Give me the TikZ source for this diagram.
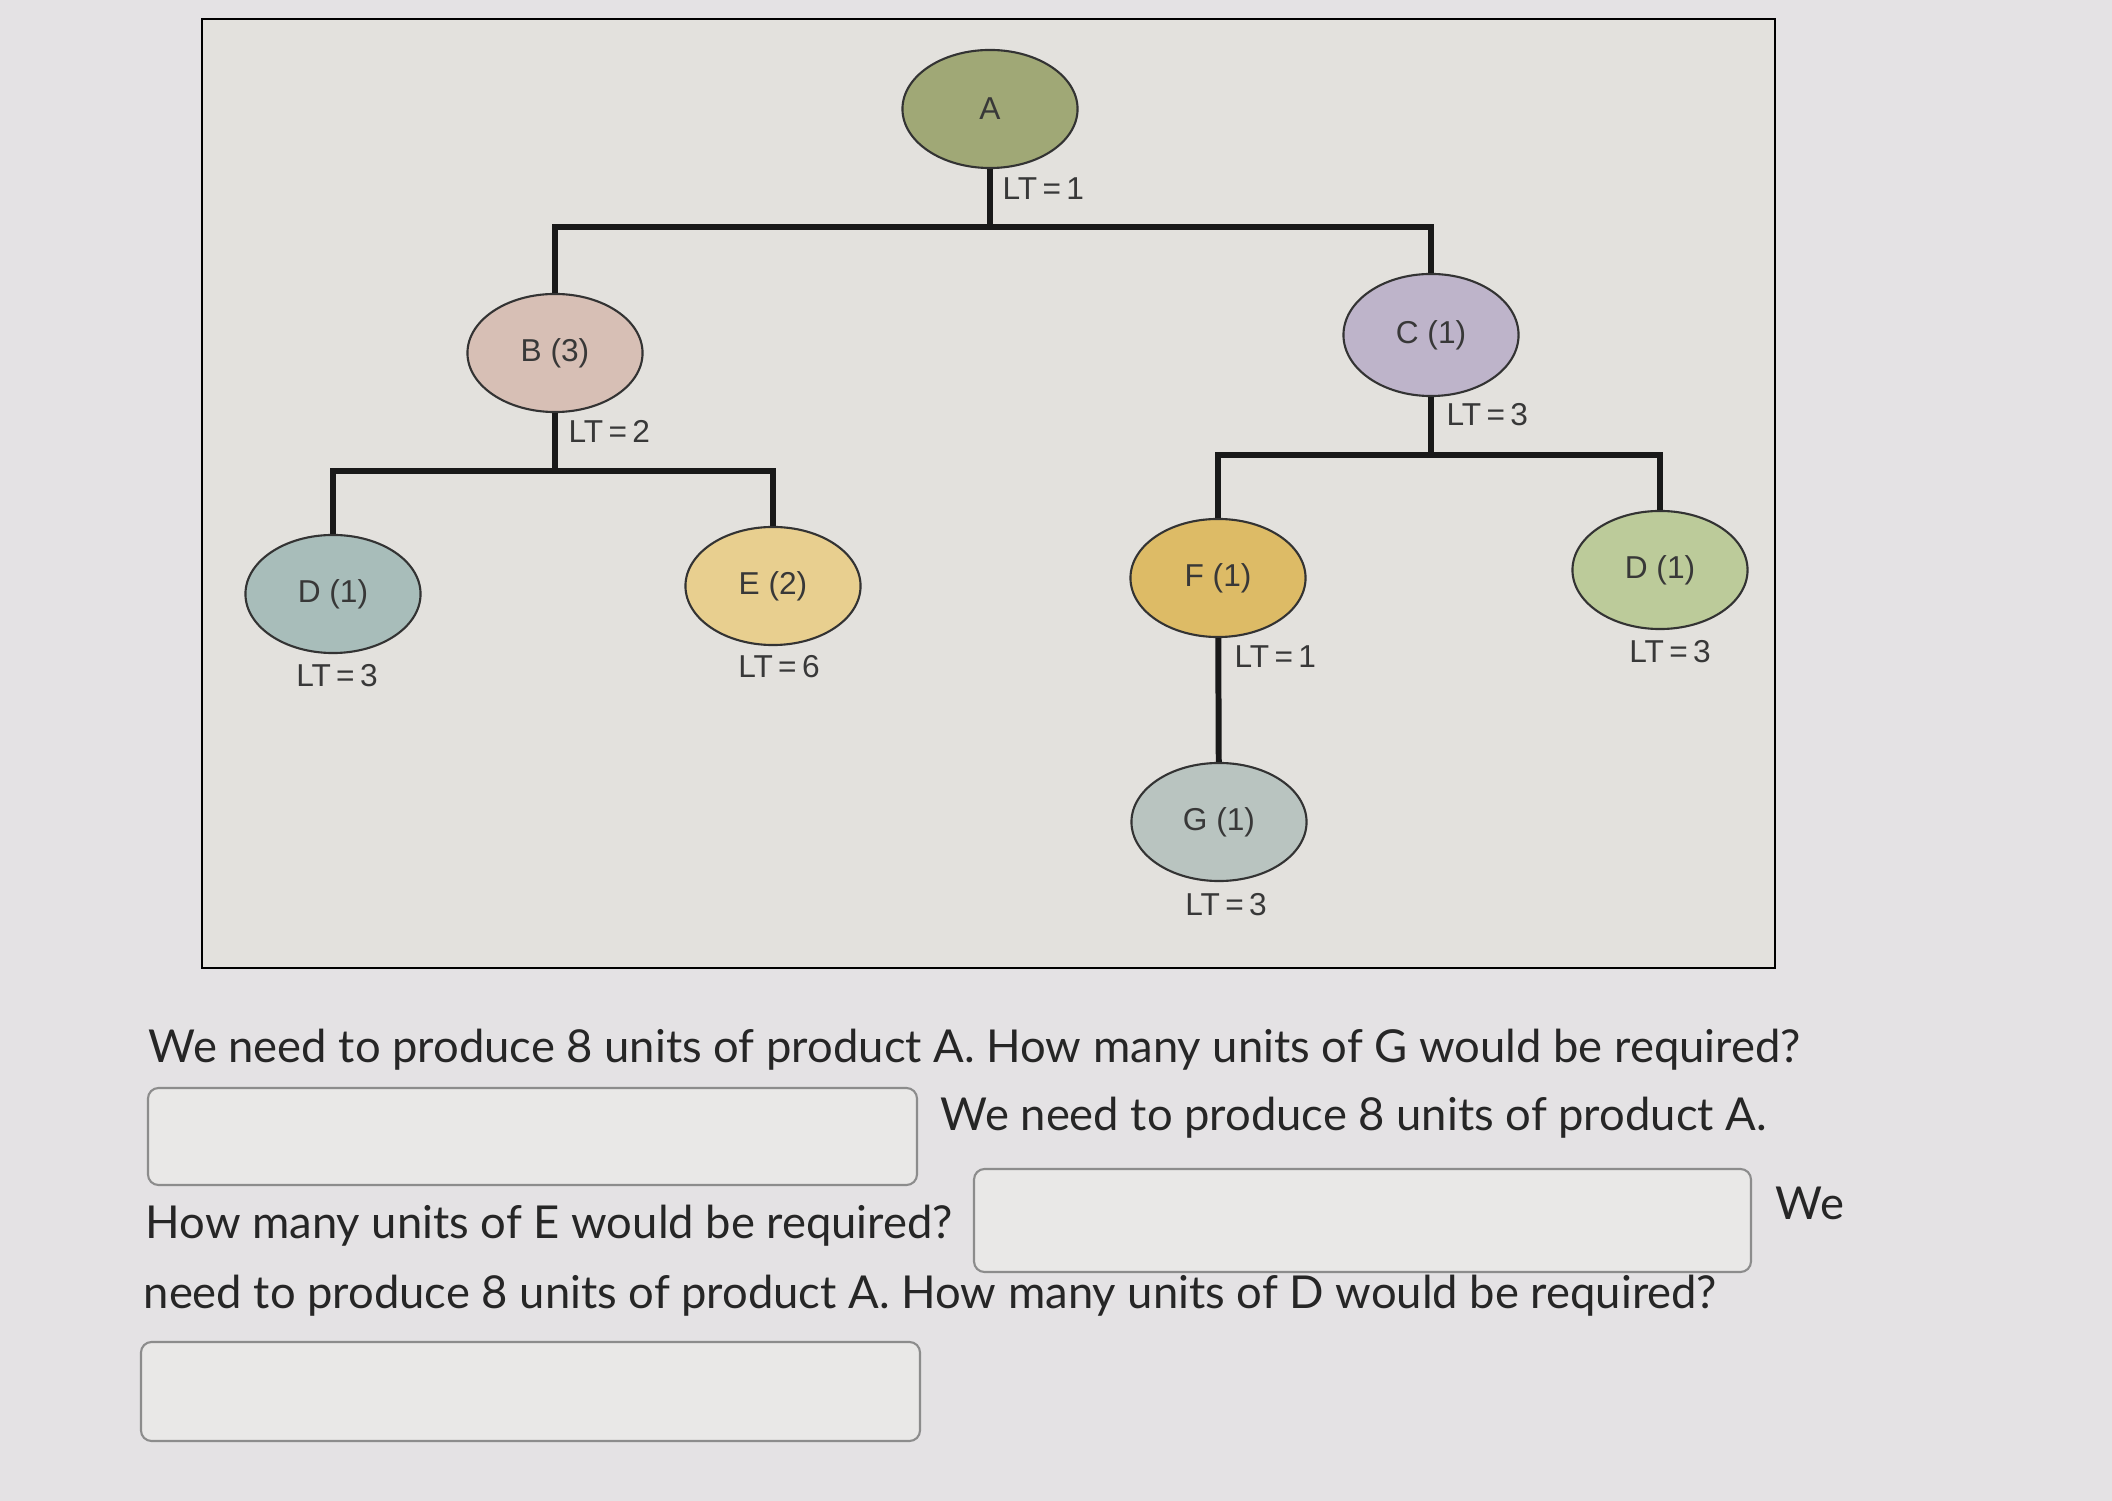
\documentclass[tikz,border=0pt]{standalone}
\usepackage{fontspec}
\setmainfont{Liberation Sans}
\newfontfamily\qfont{Lato}
\usetikzlibrary{shapes.geometric}
\definecolor{bgcol}{RGB}{228,226,228}
\definecolor{panel}{RGB}{227,225,221}
\definecolor{fieldcol}{RGB}{233,232,231}
\definecolor{cA}{RGB}{160,168,118}
\definecolor{cB}{RGB}{215,191,181}
\definecolor{cC}{RGB}{190,180,202}
\definecolor{cD}{RGB}{168,189,186}
\definecolor{cE}{RGB}{232,207,143}
\definecolor{cF}{RGB}{221,187,102}
\definecolor{cDr}{RGB}{188,203,154}
\definecolor{cG}{RGB}{185,196,192}
\tikzset{
    item/.style={ellipse,draw=black!80,line width=0.6pt,minimum width=1.75cm,minimum height=1.18cm,inner sep=0pt,font=\fontsize{9}{10}\selectfont,text=black!78},
    lt/.style={inner sep=0pt,font=\fontsize{9}{10}\selectfont,text=black!78},
    link/.style={draw=black!90,line width=1.7pt},
    qtext/.style={inner sep=0pt,font=\qfont\fontsize{12.9}{15}\selectfont,text=black!85},
    ansbox/.style={draw=black!45,fill=fieldcol,rounded corners=3pt,line width=0.6pt},
}
\begin{document}
\begin{tikzpicture}[x=0.01cm,y=-0.01cm]
\useasboundingbox (0,0) rectangle (2112,1501);
\fill[bgcol] (0,0) rectangle (2112,1501);
\draw[fill=panel,line width=0.8pt] (202,19) rectangle (1775,968);
\node[item,fill=cA] (A) at (990,109) {A};
\node[item,fill=cB] (B) at (555,353) {B (3)};
\node[item,fill=cC,minimum height=1.22cm] (C) at (1431,335) {C (1)};
\node[item,fill=cD] (D1) at (333,594) {D (1)};
\node[item,fill=cE] (E) at (773,586) {E (2)};
\node[item,fill=cF] (F) at (1218,578) {F (1)};
\node[item,fill=cDr] (D2) at (1660,570) {D (1)};
\node[item,fill=cG] (G) at (1219,822) {G (1)};
\coordinate (jA) at (990,227);
\coordinate (jB) at (555,471);
\coordinate (jC) at (1431,455);
\draw[link] (A) -- (jA);
\draw[link] (B) |- (jA) -| (C);
\draw[link] (B) -- (jB);
\draw[link] (D1) |- (jB) -| (E);
\draw[link] (C) -- (jC);
\draw[link] (F) |- (jC) -| (D2);
\draw[link] (F) -- (G);
\node[lt,anchor=west] (ltA) at (1002,189) {LT\,=\,1};
\node[lt,anchor=west] (ltB) at (568,431) {LT\,=\,2};
\node[lt,anchor=west] (ltC) at (1446,415) {LT\,=\,3};
\node[lt,anchor=west] (ltF) at (1234,657) {LT\,=\,1};
\node[lt] (ltD1) at (337,676) {LT\,=\,3};
\node[lt] (ltE) at (779,667) {LT\,=\,6};
\node[lt] (ltD2) at (1670,652) {LT\,=\,3};
\node[lt] (ltG) at (1226,905) {LT\,=\,3};
\node[qtext,anchor=west] (q1) at (148,1050) {We need to produce 8 units of product A. How many units of G would be required?};
\draw[ansbox] (148,1088) rectangle (917,1185);
\node[qtext,anchor=west] (q2) at (940,1118) {We need to produce 8 units of product A.};
\node[qtext,anchor=west] (q3) at (145,1226) {How many units of E would be required?};
\draw[ansbox] (974,1169) rectangle (1751,1272);
\node[qtext,anchor=west] (q4) at (1775,1203) {We};
\node[qtext,anchor=west] (q5) at (143,1296) {need to produce 8 units of product A. How many units of D would be required?};
\draw[ansbox] (141,1342) rectangle (920,1441);
\end{tikzpicture}
\end{document}
